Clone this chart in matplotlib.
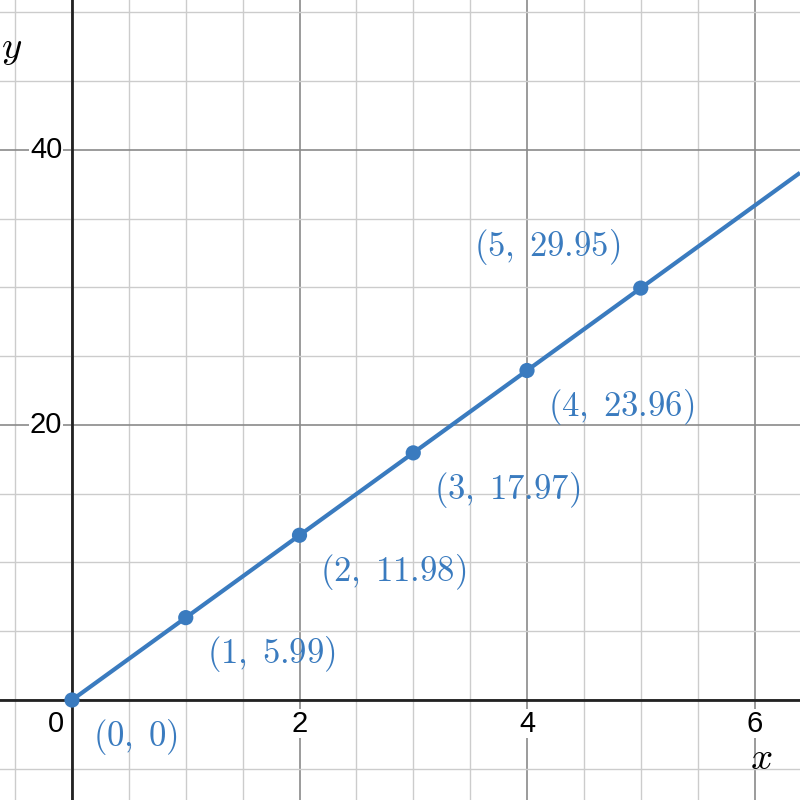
import numpy as np
import matplotlib.pyplot as plt

plt.rcParams['mathtext.fontset'] = 'cm'

# data points (x, y)
xs = [0, 1, 2, 3, 4, 5]
ys = [0, 5.99, 11.98, 17.97, 23.96, 29.95]
labels = ['(0, 0)', '(1, 5.99)', '(2, 11.98)', '(3, 17.97)', '(4, 23.96)', '(5, 29.95)']
slope = 5.99

x_ticks = [2, 4, 6]
y_ticks = [20, 40]

BLUE = '#3a7bbf'

fig = plt.figure(figsize=(8, 8), dpi=100)
ax = fig.add_axes([0, 0, 1, 1])
xmin, xmax = -0.633, 6.4
ymin, ymax = -7.27, 50.9
ax.set_xlim(xmin, xmax)
ax.set_ylim(ymin, ymax)

# grid
for gx in np.arange(-0.5, 6.6, 0.5):
    major = abs(gx % 2) < 1e-9
    ax.axvline(gx, color='#8a8a8a' if major else '#cccccc', lw=1.2 if major else 1.0, zorder=0)
for gy in np.arange(-5, 51, 5):
    major = abs(gy % 20) < 1e-9
    ax.axhline(gy, color='#8a8a8a' if major else '#cccccc', lw=1.2 if major else 1.0, zorder=0)

ax.axhline(0, color='#222222', lw=2, zorder=1)
ax.axvline(0, color='#222222', lw=2, zorder=1)

for s in ax.spines.values():
    s.set_visible(False)
ax.set_xticks([])
ax.set_yticks([])

# tick labels
box = dict(facecolor='white', edgecolor='none', pad=0.5)
for t in x_ticks:
    ax.annotate(str(t), (t, 0), xytext=(0, -7), textcoords='offset points',
                ha='center', va='top', fontsize=21, family='Liberation Sans', bbox=box, zorder=2)
ax.annotate('0', (0, 0), xytext=(-6, -7), textcoords='offset points',
            ha='right', va='top', fontsize=21, family='Liberation Sans', zorder=2)
for t in y_ticks:
    ax.annotate(str(t), (0, t), xytext=(-7, 0), textcoords='offset points',
                ha='right', va='center', fontsize=21, family='Liberation Sans', bbox=box, zorder=2)

ax.text(0.015, 0.94, '$y$', transform=ax.transAxes, fontsize=28, ha='center', va='center')
ax.text(0.952, 0.052, '$x$', transform=ax.transAxes, fontsize=28, ha='center', va='center')

# line and points
lx = np.array([0, xmax])
ax.plot(lx, slope * lx, color=BLUE, lw=3, zorder=3, solid_capstyle='butt')
ax.scatter(xs, ys, s=120, color=BLUE, zorder=4, edgecolors='none')

for x, y, lab in zip(xs, ys, labels):
    txt = '$' + lab.replace(' ', r'\;') + '$'
    if x == 5:
        ax.annotate(txt, (x, y), xytext=(-15, 15), textcoords='offset points',
                    ha='right', va='bottom', fontsize=25, color=BLUE, zorder=5)
    else:
        ax.annotate(txt, (x, y), xytext=(15, -12), textcoords='offset points',
                    ha='left', va='top', fontsize=25, color=BLUE, zorder=5)

fig.savefig('out.png', dpi=100)
